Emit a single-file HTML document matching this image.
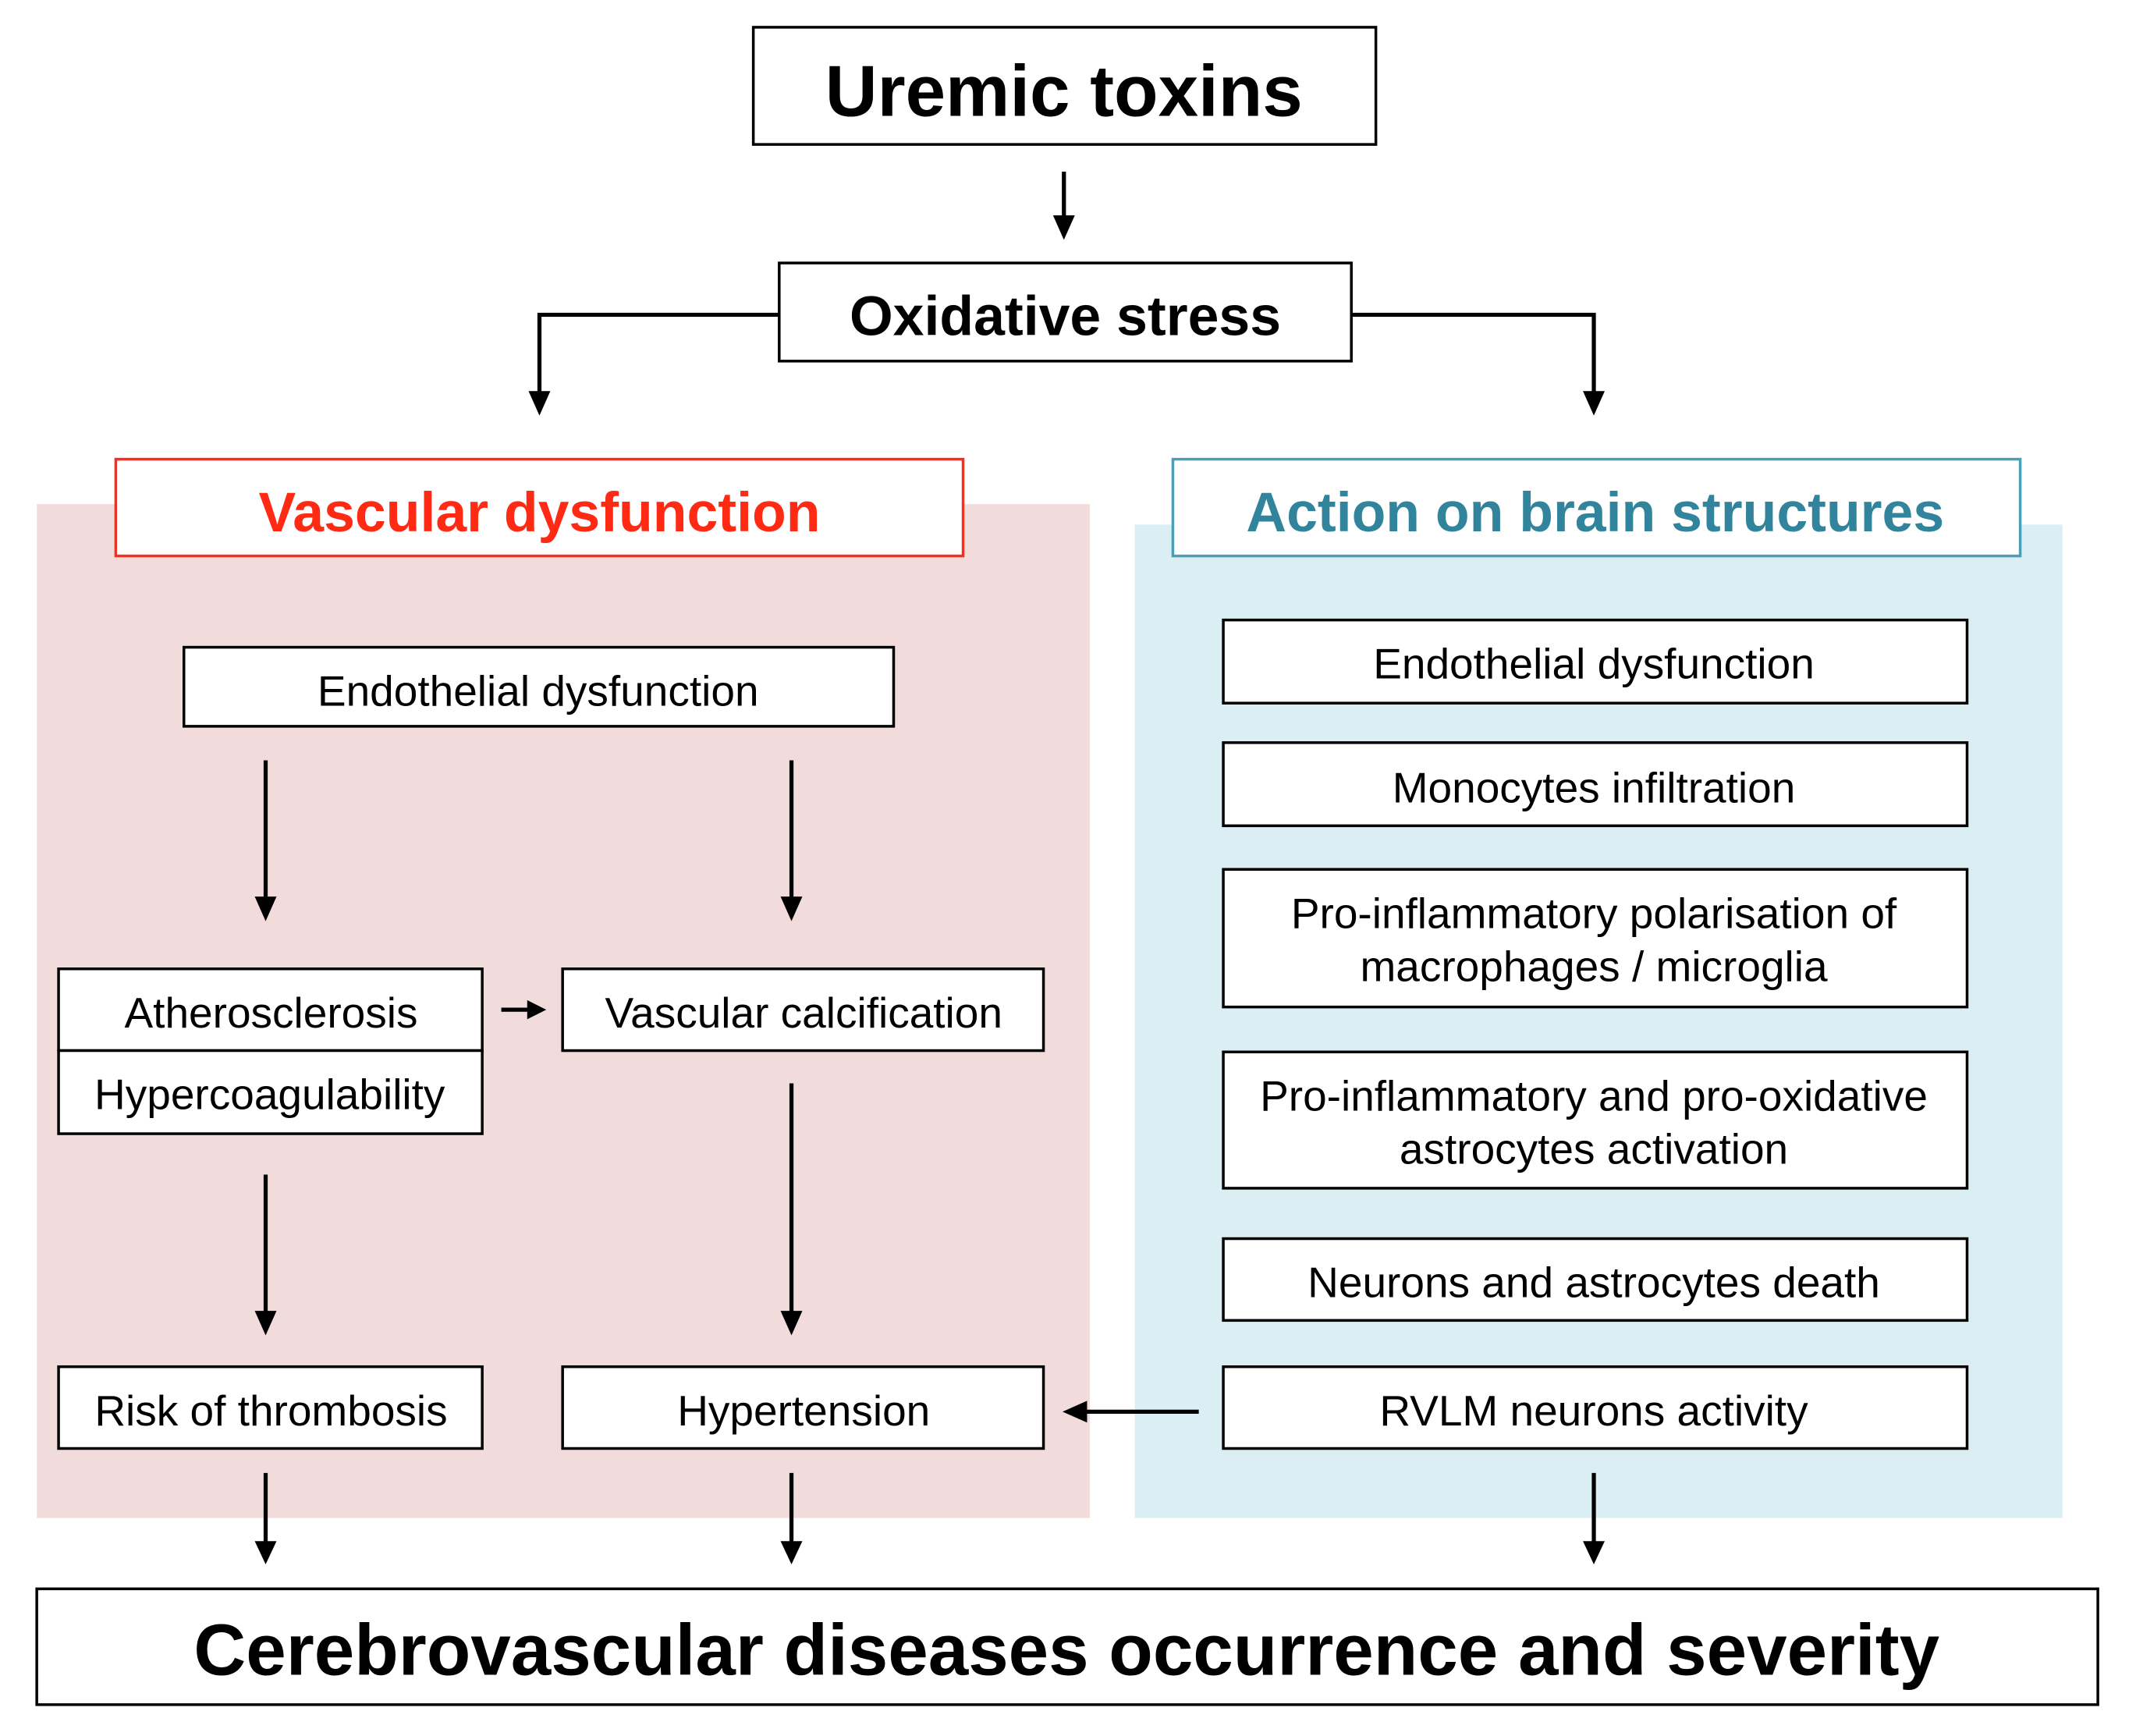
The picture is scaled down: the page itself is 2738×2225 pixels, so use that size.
<!DOCTYPE html>
<html><head><meta charset="utf-8"><style>
html,body{margin:0;padding:0;background:#fff;}
svg{display:block;}
text{font-family:"Liberation Sans",Arial,sans-serif;text-anchor:middle;}
</style></head><body>
<svg width="2738" height="2225" viewBox="0 0 1568 1274" preserveAspectRatio="none" xmlns="http://www.w3.org/2000/svg">
<style>
.b{fill:#fff;stroke:#000;stroke-width:2}
.l{stroke:#000;stroke-width:3;fill:none}
.t{font-size:31.5px}
</style>
<rect x="27" y="370" width="773" height="744" fill="#f2dcdb"/>
<rect x="833" y="385" width="681" height="729" fill="#dbeef3"/>

<rect class="b" x="553" y="20" width="457" height="86"/>
<text x="781" y="85" font-size="53" font-weight="bold">Uremic toxins</text>
<path class="l" d="M781 126 V162"/><path d="M773 158 L781 176 L789 158 z"/>

<rect class="b" x="572" y="193" width="420" height="72"/>
<text x="782" y="246" font-size="41" font-weight="bold">Oxidative stress</text>
<path class="l" d="M572 231 H396 V290"/><path d="M388 287 L396 305 L404 287 z"/>
<path class="l" d="M992 231 H1170 V290"/><path d="M1162 287 L1170 305 L1178 287 z"/>

<rect x="85" y="337" width="622" height="71" fill="#fff" stroke="#ff2a1a" stroke-width="2"/>
<text x="396" y="390" font-size="41" font-weight="bold" fill="#ff2a14">Vascular dysfunction</text>
<rect x="861" y="337" width="622" height="71" fill="#fff" stroke="#4a9fb5" stroke-width="2"/>
<text x="1171" y="390" font-size="41" font-weight="bold" fill="#31849b">Action on brain structures</text>

<rect class="b" x="135" y="475" width="521" height="58"/>
<text class="t" x="395" y="518">Endothelial dysfunction</text>
<path class="l" d="M195 558 V662"/><path d="M187 658 L195 676 L203 658 z"/>
<path class="l" d="M581 558 V662"/><path d="M573 658 L581 676 L589 658 z"/>

<rect class="b" x="43" y="711" width="311" height="60"/>
<text class="t" x="199" y="754">Atherosclerosis</text>
<rect class="b" x="43" y="771" width="311" height="61"/>
<text class="t" x="198" y="814">Hypercoagulability</text>
<path class="l" d="M368 741 H390"/><path d="M387 734 L401 741 L387 748 z"/>
<rect class="b" x="413" y="711" width="353" height="60"/>
<text class="t" x="590" y="754">Vascular calcification</text>

<path class="l" d="M195 862 V966"/><path d="M187 962 L195 980 L203 962 z"/>
<path class="l" d="M581 795 V966"/><path d="M573 962 L581 980 L589 962 z"/>

<rect class="b" x="43" y="1003" width="311" height="60"/>
<text class="t" x="199" y="1046">Risk of thrombosis</text>
<rect class="b" x="413" y="1003" width="353" height="60"/>
<text class="t" x="590" y="1046">Hypertension</text>
<path class="l" d="M880 1036 H795"/><path d="M798 1028 L780 1036 L798 1044 z"/>

<path class="l" d="M195 1081 V1134"/><path d="M187 1131 L195 1148 L203 1131 z"/>
<path class="l" d="M581 1081 V1134"/><path d="M573 1131 L581 1148 L589 1131 z"/>
<path class="l" d="M1170 1081 V1134"/><path d="M1162 1131 L1170 1148 L1178 1131 z"/>

<rect class="b" x="898" y="455" width="546" height="61"/>
<text class="t" x="1170" y="498">Endothelial dysfunction</text>
<rect class="b" x="898" y="545" width="546" height="61"/>
<text class="t" x="1170" y="589">Monocytes infiltration</text>
<rect class="b" x="898" y="638" width="546" height="101"/>
<text class="t" x="1170" y="681">Pro-inflammatory polarisation of</text>
<text class="t" x="1170" y="720">macrophages / microglia</text>
<rect class="b" x="898" y="772" width="546" height="100"/>
<text class="t" x="1170" y="815">Pro-inflammatory and pro-oxidative</text>
<text class="t" x="1170" y="854">astrocytes activation</text>
<rect class="b" x="898" y="909" width="546" height="60"/>
<text class="t" x="1170" y="952">Neurons and astrocytes death</text>
<rect class="b" x="898" y="1003" width="546" height="60"/>
<text class="t" x="1170" y="1046">RVLM neurons activity</text>

<rect class="b" x="27" y="1166" width="1513" height="85"/>
<text x="783" y="1229" font-size="53" font-weight="bold">Cerebrovascular diseases occurrence and severity</text>
</svg>
</body></html>
